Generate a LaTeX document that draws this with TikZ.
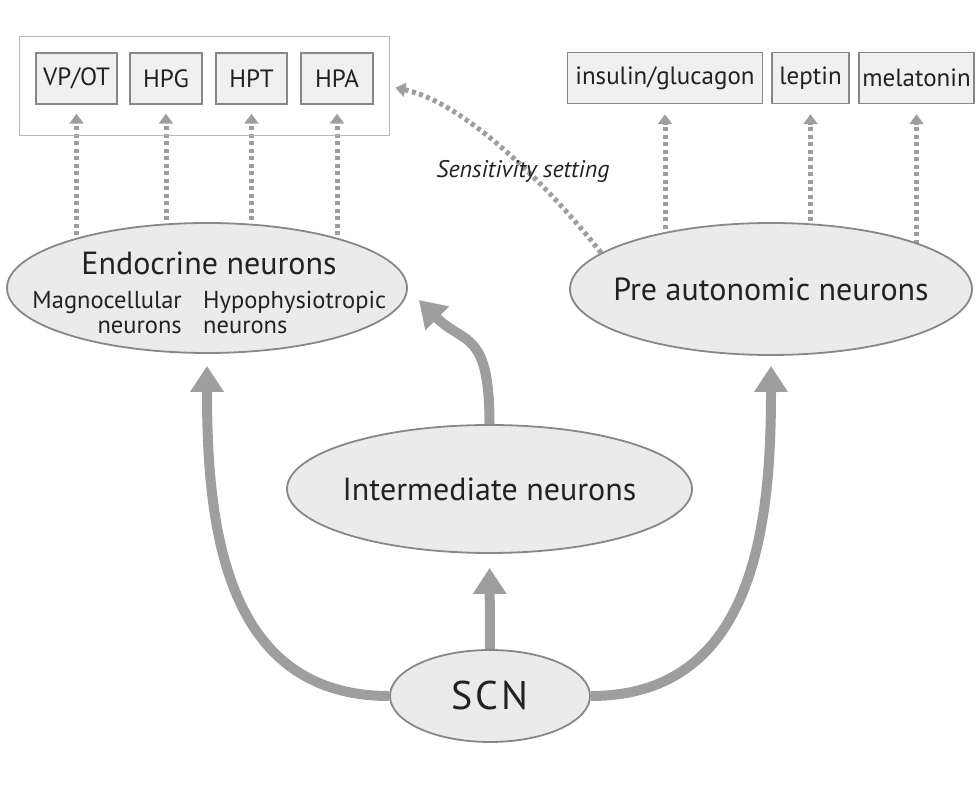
\documentclass[tikz,border=0pt]{standalone}
\usepackage{fontspec}
\setmainfont{PT Sans}
\usetikzlibrary{arrows.meta, shapes.geometric, backgrounds, calc}
\definecolor{linegray}{HTML}{9E9E9E}
\definecolor{edgegray}{HTML}{878787}
\definecolor{fillgray}{HTML}{EBEBEB}
\definecolor{boxgray}{HTML}{F0F0F0}
\definecolor{inkgray}{HTML}{222222}
\tikzset{
  neuron/.style={ellipse, draw=edgegray, line width=1.8pt, fill=fillgray,
    inner sep=0pt},
  hormone/.style={rectangle, draw=edgegray, line width=1.5pt, fill=boxgray,
    minimum height=51pt, inner sep=0pt,
    font=\fontsize{25}{28}\selectfont, text=inkgray},
  group/.style={rectangle, draw=edgegray!60, line width=1pt,
    minimum width=370pt, minimum height=99pt},
  dotarrow/.style={draw=linegray, line width=5pt,
    dash pattern=on 4pt off 3.5pt, -{Triangle[width=14pt,length=10pt]}},
  bigarrow/.style={draw=linegray, line width=10pt,
    -{Triangle[width=32pt,length=26pt]}},
  title/.style={font=\fontsize{32}{36}\selectfont, text=inkgray},
  sublabel/.style={font=\fontsize{24.5}{25}\selectfont, text=inkgray, inner sep=0pt},
  note/.style={font=\fontsize{24}{28}\selectfont\itshape, text=inkgray}
}

\begin{document}
\begin{tikzpicture}[x=1pt, y=1pt]
\useasboundingbox (0,0) rectangle (978,790);

%% ── Hormone outputs ────────────────────────────────────
\node[group] (axes) at (204,703.5) {};
\node[hormone, minimum width=81pt] (vpot) at (76.5,711.5) {VP/OT};
\node[hormone, minimum width=72pt] (hpg)  at (166,711.5)  {HPG};
\node[hormone, minimum width=71pt] (hpt)  at (251.5,711.5) {HPT};
\node[hormone, minimum width=72pt] (hpa)  at (337,711.5)  {HPA};

\node[hormone, minimum width=195pt] (insulin)   at (665,712)   {insulin/glucagon};
\node[hormone, minimum width=77pt]  (leptin)    at (810.5,712) {leptin};
\node[hormone, minimum width=115pt] (melatonin) at (916.5,712) {melatonin};

%% ── Neuron groups ──────────────────────────────────────
\node[neuron, minimum width=400pt, minimum height=130pt] (endo) at (207,502) {};
\node[title] (endotitle) at (209,527) {Endocrine neurons};
\node[sublabel, anchor=east, align=right] (magno) at (182,477.5) {Magnocellular\\neurons};
\node[sublabel, anchor=west, align=left]  (hypo)  at (203,477.5) {Hypophysiotropic\\neurons};

\node[neuron, minimum width=402pt, minimum height=132pt] (pre) at (771,501) {};
\node[title] (pretitle) at (pre.center) {Pre autonomic neurons};

\node[neuron, minimum width=405pt, minimum height=128pt] (inter) at (489.5,301) {};
\node[title] (intertitle) at (inter.center) {Intermediate neurons};

\node[neuron, minimum width=200pt, minimum height=92pt] (scn) at (490,94) {};
\node[font=\fontsize{40}{44}\selectfont\addfontfeatures{LetterSpace=8}, text=inkgray]
  (scntitle) at (scn.center) {SCN};

%% ── Hormone release (dotted) ───────────────────────────
\begin{scope}[on background layer]
  \foreach \hb in {vpot, hpg, hpt, hpa}
    \draw[dotarrow, shorten >=9pt] (\hb |- endo.center) -- (\hb.south);
  \foreach \hb in {insulin, leptin, melatonin}
    \draw[dotarrow, shorten >=10pt] (\hb |- pre.center) -- (\hb.south);
\end{scope}

% Pre autonomic -> endocrine axes
\draw[dotarrow, shorten >=6pt] (pre.168) to[out=128, in=-12, looseness=0.75] (axes.east);
\node[note] (sens) at (523,618) {Sensitivity setting};

%% ── SCN outputs ────────────────────────────────────────
\coordinate (endohook) at ($(endo.east)+(11,-12)$);
\draw[bigarrow, shorten >=14pt] (scn.north) -- (inter.south);
\draw[bigarrow] (inter.north) .. controls +(0,95) and +(45,-45) .. (endohook);
\draw[bigarrow, shorten >=12pt] (scn.west) to[out=180, in=-90, looseness=1.1] (endo.south);
\draw[bigarrow, shorten >=10pt] (scn.east) to[out=0, in=-90, looseness=1.1] (pre.south);

\end{tikzpicture}
\end{document}
